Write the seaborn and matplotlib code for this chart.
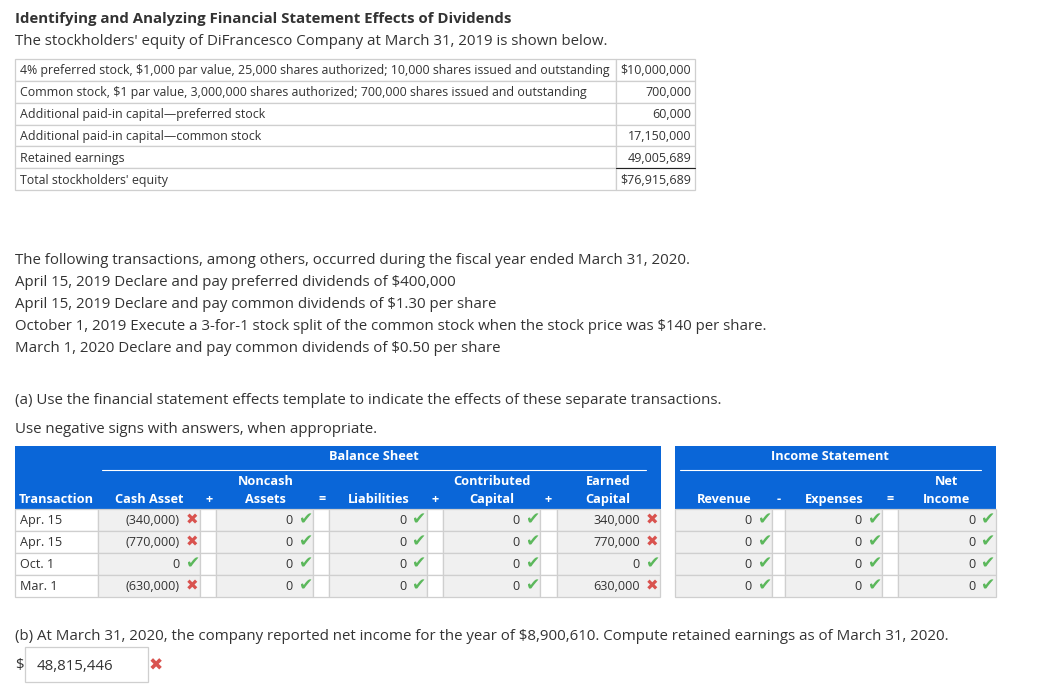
"""Financial statement effects worksheet, redrawn as real text and table cells."""
import matplotlib.pyplot as plt
from matplotlib.patches import Rectangle
import seaborn as sns

# data
equity_labels = [
    "4% preferred stock, $1,000 par value, 25,000 shares authorized; 10,000 shares issued and outstanding",
    "Common stock, $1 par value, 3,000,000 shares authorized; 700,000 shares issued and outstanding",
    "Additional paid-in capital\u2014preferred stock",
    "Additional paid-in capital\u2014common stock",
    "Retained earnings",
    "Total stockholders' equity",
]
equity_values = ["$10,000,000", "700,000", "60,000", "17,150,000", "49,005,689", "$76,915,689"]

transaction_lines = [
    "The following transactions, among others, occurred during the fiscal year ended March 31, 2020.",
    "April 15, 2019 Declare and pay preferred dividends of $400,000",
    "April 15, 2019 Declare and pay common dividends of $1.30 per share",
    "October 1, 2019 Execute a 3-for-1 stock split of the common stock when the stock price was $140 per share.",
    "March 1, 2020 Declare and pay common dividends of $0.50 per share",
]

transactions = ["Apr. 15", "Apr. 15", "Oct. 1", "Mar. 1"]
cash_asset = ["(340,000)", "(770,000)", "0", "(630,000)"]
cash_ok = [False, False, True, False]
earned_capital = ["340,000", "770,000", "0", "630,000"]
earned_ok = [False, False, True, False]
zeros = ["0", "0", "0", "0"]
all_ok = [True, True, True, True]

sns.set_theme(style="white")
plt.rcParams["font.family"] = ["Open Sans", "DejaVu Sans"]

BLUE = "#0a66d8"
CELL = "#f0f0f0"
BORDER = "#cfcfcf"
TEXT = "#333333"
GREEN = "#5cb85c"
RED = "#d9534f"
BODY_PX = 14.97

W, H = 1046, 691
fig = plt.figure(figsize=(W / 100, H / 100), dpi=100)
ax = fig.add_axes([0, 0, 1, 1])
ax.set_xlim(0, W)
ax.set_ylim(H, 0)
ax.axis("off")


def label(x, y, s, px=15, color=TEXT, ha="left", weight="normal"):
    """Text placed by baseline in pixels, size given in px."""
    ax.text(x, y, s, fontsize=px * 0.72, color=color, ha=ha, va="baseline", fontweight=weight)


def box(x0, y0, x1, y1, face="white", edge=BORDER, lw=0.9, z=1):
    ax.add_patch(Rectangle((x0, y0), x1 - x0, y1 - y0, facecolor=face, edgecolor=edge, linewidth=lw, zorder=z))


def mark(x, y, ok, px=None):
    px = px or (17 if ok else 15)
    ax.text(x, y, "\u2714" if ok else "\u2716", fontsize=px * 0.72, color=GREEN if ok else RED,
            ha="center", va="center", family="DejaVu Sans", zorder=3)


# heading and equity table
label(15, 22.5, "Identifying and Analyzing Financial Statement Effects of Dividends", px=15, weight="bold")
label(15, 44.5, "The stockholders' equity of DiFrancesco Company at March 31, 2019 is shown below.", px=BODY_PX)

row_edges = [59, 81, 103, 125, 146, 168, 190]
for i, (name, value) in enumerate(zip(equity_labels, equity_values)):
    top, bottom = row_edges[i], row_edges[i + 1]
    box(15, top, 616, bottom)
    box(616, top, 695, bottom)
    base = bottom - (7.2 if i < 3 else 6.5)
    label(20, base, name, px=12.42)
    label(691, base, value, px=12.5, ha="right")
ax.plot([616, 695], [168, 168], color="#222222", lw=0.8, zorder=2)

for line_y, line in zip([263.5, 285.5, 307.5, 329.5, 351.5], transaction_lines):
    label(15, line_y, line, px=BODY_PX)

label(15, 403.5, "(a) Use the financial statement effects template to indicate the effects of these separate transactions.", px=BODY_PX)
label(15, 432.5, "Use negative signs with answers, when appropriate.", px=BODY_PX)

# template tables
HEAD_TOP, HEAD_BOTTOM = 446, 509
rows = [(509, 530.5), (531, 552.5), (553, 574.5), (575, 596.5)]


def header(top, bottom, center_x):
    if top:
        label(center_x, 484.5, top, px=12.7, color="white", ha="center", weight="bold")
    label(center_x, 502.5, bottom, px=12.7, color="white", ha="center", weight="bold")


def value_column(x0, x1, values, flags):
    for (top, bottom), v, ok in zip(rows, values, flags):
        box(x0, top, x1, bottom, face=CELL)
        label(x1 - 20, bottom - 6.5, v, px=12.6, ha="right")
        mark(x1 - 8, (top + bottom) / 2, ok)


def spacer_column(x0, x1):
    for top, bottom in rows:
        box(x0, top, x1, bottom, face="white")


box(15, HEAD_TOP, 661, HEAD_BOTTOM, face=BLUE, edge=BLUE, lw=0)
box(675, HEAD_TOP, 996, HEAD_BOTTOM, face=BLUE, edge=BLUE, lw=0)
ax.plot([102, 646], [470, 470], color="white", lw=0.8, zorder=2)
ax.plot([680, 981], [470, 470], color="white", lw=0.8, zorder=2)
label(374, 459.5, "Balance Sheet", px=12.7, color="white", ha="center", weight="bold")
label(830, 459.5, "Income Statement", px=12.7, color="white", ha="center", weight="bold")

header("", "Transaction", 56.5)
header("", "Cash Asset", 149.5)
header("", "+", 209)
header("Noncash", "Assets", 265.5)
header("", "=", 322)
header("", "Liabilities", 378.5)
header("", "+", 435.5)
header("Contributed", "Capital", 491.5)
header("", "+", 548.5)
header("Earned", "Capital", 608)
header("", "Revenue", 724)
header("", "-", 779)
header("", "Expenses", 834.5)
header("", "=", 890)
header("Net", "Income", 947)

for (top, bottom), name in zip(rows, transactions):
    box(15, top, 97.5, bottom, face="white")
    label(20, bottom - 6.5, name, px=12.6)

value_column(97.5, 200, cash_asset, cash_ok)
spacer_column(200, 216)
value_column(216, 313, zeros, all_ok)
spacer_column(313, 329)
value_column(329, 426.5, zeros, all_ok)
spacer_column(426.5, 443)
value_column(443, 540, zeros, all_ok)
spacer_column(540, 556.5)
value_column(556.5, 660, earned_capital, earned_ok)
value_column(675, 772, zeros, all_ok)
spacer_column(772, 785)
value_column(785, 882, zeros, all_ok)
spacer_column(882, 898)
value_column(898, 995.5, zeros, all_ok)

# part b
label(15, 640.5, "(b) At March 31, 2020, the company reported net income for the year of $8,900,610. Compute retained earnings as of March 31, 2020.", px=BODY_PX)
label(15, 669.5, "$", px=BODY_PX)
box(24.5, 647, 147.5, 681.5, face="white")
label(37, 669.5, "48,815,446", px=BODY_PX)
mark(155.5, 665.5, False, px=17)

fig.savefig("out.png", dpi=100)
